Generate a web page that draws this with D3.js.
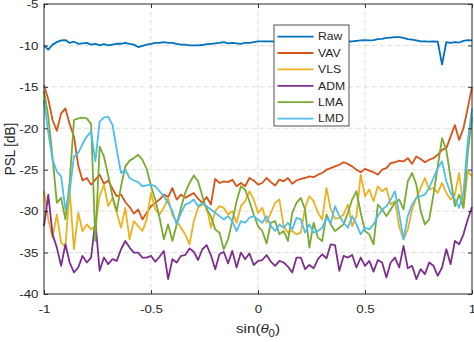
<!DOCTYPE html>
<html>
<head>
<meta charset="utf-8">
<script src="https://cdn.jsdelivr.net/npm/d3@7"></script>
<style>
  html, body { margin: 0; padding: 0; background: #fff; }
  svg { display: block; }
</style>
</head>
<body>
<svg id="chart" width="474" height="342"></svg>
<script>
// Steering direction grid, sin(theta0) from -1 to 1
const sinTheta = d3.range(101).map(i => -1 + i * 0.02);

// Peak sidelobe level (dB) for each method
const raw = [
  -10.0, -10.5, -9.9, -9.6, -9.4, -9.35, -9.7, -9.55, -9.8, -9.75, -9.7, -9.9, -9.8, -10.0, -9.85, -10.0, -9.9, -9.8, -9.8, -9.7, -9.8, -9.9, -10.2, -10.05, -9.9, -9.8,
  -9.7, -9.7, -9.6, -9.7, -9.7, -9.8, -9.9, -9.9, -10.0, -10.0, -10.0, -9.95, -9.85, -9.8, -9.75, -9.7, -9.6, -9.75, -9.7, -9.75, -9.8, -9.7, -9.7, -9.6, -9.5,
  -9.5, -9.5, -9.5, -9.55, -9.6, -9.55, -9.6, -9.65, -9.6, -9.7, -9.65, -9.6, -9.7, -9.75, -9.7, -9.65, -9.7, -9.75, -9.7, -9.7, -9.55, -9.5, -9.45, -9.4, -9.35,
  -9.4, -9.35, -9.25, -9.2, -9.1, -9.05, -9.0, -9.0, -9.1, -9.25, -9.3, -9.4, -9.5, -9.5, -9.55, -9.5, -9.55, -12.3, -9.6, -9.7, -9.6, -9.65, -9.45, -9.35, -9.4
];
const vav = [
  -14.8, -16.5, -19.0, -20.3, -18.2, -17.6, -19.5, -21.0, -24.5, -26.3, -26.0, -26.8, -26.2, -25.6, -26.7, -26.3, -27.3, -28.2, -28.0, -28.9, -29.5, -30.3, -29.8, -31.0, -30.2, -29.4,
  -29.0, -28.6, -28.0, -28.3, -27.2, -28.6, -28.0, -28.4, -28.1, -27.8, -28.5, -29.0, -28.3, -29.2, -26.1, -26.6, -26.4, -26.5, -26.2, -27.0, -26.6, -27.0, -26.0, -26.3, -26.8,
  -26.6, -26.0, -26.5, -26.9, -26.2, -26.4, -26.0, -26.7, -26.3, -26.1, -26.0, -25.8, -25.9, -25.6, -25.4, -25.0, -24.8, -24.6, -24.4, -24.1, -24.3, -24.6, -25.0, -25.3, -24.9,
  -25.1, -25.3, -25.6, -25.0, -24.8, -24.2, -24.1, -23.9, -24.0, -23.6, -24.3, -23.4, -23.7, -24.1, -23.8, -23.6, -23.2, -22.6, -22.4, -21.0, -19.6, -21.4, -20.0, -17.6, -15.0
];
const vls = [
  -27.6, -31.0, -33.2, -30.4, -33.8, -34.3, -27.4, -34.6, -30.2, -32.4, -31.6, -32.2, -31.8, -28.2, -26.8, -29.4, -28.4, -30.2, -32.0, -29.6, -33.4, -31.2, -31.8, -32.4, -31.0, -27.8,
  -29.8, -30.4, -29.6, -28.4, -30.5, -31.2, -32.0, -32.8, -34.0, -31.2, -29.6, -29.2, -29.4, -32.0, -30.0, -29.4, -29.6, -30.4, -30.0, -31.4, -29.4, -28.8, -27.6, -28.6, -30.2,
  -29.6, -31.4, -30.2, -29.0, -28.6, -31.8, -32.6, -32.4, -32.8, -32.6, -29.6, -28.2, -28.8, -30.2, -31.0, -27.2, -29.8, -30.9, -30.8, -30.4, -29.2, -31.8, -30.6, -25.6, -28.2,
  -27.4, -28.8, -27.0, -27.6, -27.2, -29.2, -28.8, -31.9, -33.4, -32.2, -29.8, -28.4, -27.2, -26.0, -27.4, -27.2, -27.8, -26.6, -27.8, -28.6, -28.0, -25.4, -29.6, -25.2, -25.8
];
const adm = [
  -31.8, -28.0, -32.8, -34.4, -36.6, -34.0, -36.2, -37.4, -36.8, -35.4, -36.2, -35.6, -31.2, -37.2, -35.6, -36.4, -35.8, -36.0, -34.6, -33.6, -34.4, -35.0, -35.0, -35.6, -35.6, -35.4,
  -36.1, -35.5, -34.8, -38.2, -35.8, -36.2, -35.4, -35.3, -34.5, -34.9, -35.9, -34.6, -34.1, -35.3, -37.0, -35.2, -34.9, -36.3, -34.8, -36.8, -35.0, -35.8, -35.1, -36.5, -36.0,
  -35.9, -35.3, -36.1, -36.6, -36.0, -36.2, -36.7, -37.4, -35.6, -35.6, -37.0, -36.5, -36.9, -35.8, -35.2, -35.7, -34.0, -34.1, -37.2, -35.4, -35.6, -35.3, -36.8, -35.6, -36.6,
  -36.0, -37.3, -35.9, -36.2, -38.0, -36.2, -35.6, -36.8, -34.2, -36.9, -36.6, -38.2, -37.0, -37.6, -36.2, -36.6, -37.8, -36.8, -34.6, -36.4, -33.6, -34.0, -32.8, -31.0, -29.5
];
const lma = [
  -15.5, -18.6, -23.5, -29.0, -28.4, -31.0, -26.5, -19.0, -18.8, -18.7, -18.8, -19.5, -33.6, -22.2, -23.4, -25.7, -28.2, -30.0, -27.0, -24.6, -23.9, -23.6, -23.2, -23.8, -24.9, -27.0,
  -28.6, -30.8, -33.4, -31.6, -33.6, -31.6, -29.6, -27.8, -26.6, -25.7, -26.4, -28.2, -29.8, -30.6, -32.2, -32.6, -34.6, -33.4, -31.2, -28.8, -27.0, -27.4, -28.8, -30.4, -31.8,
  -32.4, -33.9, -31.4, -31.2, -32.8, -32.4, -33.6, -30.2, -29.0, -28.4, -29.8, -34.4, -31.4, -33.2, -33.6, -30.4, -31.6, -32.4, -32.0, -31.6, -30.2, -28.6, -27.6, -30.2, -32.4,
  -32.8, -34.0, -29.2, -29.8, -30.6, -29.8, -29.0, -28.6, -29.8, -26.4, -25.4, -26.8, -30.0, -31.6, -31.0, -28.0, -24.6, -21.2, -22.6, -26.0, -29.4, -28.0, -29.6, -23.0, -18.6
];
const lmd = [
  -16.6, -20.5, -23.8, -25.2, -25.8, -29.8, -27.6, -23.4, -23.0, -21.9, -21.0, -20.4, -24.0, -19.2, -18.7, -18.6, -19.6, -22.6, -25.4, -25.0, -26.0, -26.3, -26.5, -27.0, -26.9, -26.8,
  -27.0, -27.6, -28.2, -29.0, -30.0, -31.6, -30.2, -29.2, -29.0, -28.6, -29.4, -29.0, -29.4, -29.8, -30.2, -30.6, -31.0, -30.6, -31.2, -32.4, -31.2, -31.4, -30.8, -30.6, -31.0,
  -31.4, -30.6, -31.8, -32.4, -31.6, -32.0, -31.4, -32.2, -30.8, -31.0, -32.6, -31.6, -32.6, -32.4, -32.0, -30.8, -31.4, -29.4, -30.6, -31.4, -32.0, -30.6, -31.6, -32.8, -32.0,
  -32.2, -31.6, -30.6, -29.8, -29.4, -28.6, -27.6, -30.4, -33.4, -30.6, -29.2, -28.4, -28.2, -28.0, -27.2, -26.0, -24.8, -24.0, -26.4, -27.8, -28.6, -29.6, -27.8, -21.6, -17.6
];

const seriesNames = ["Raw", "VAV", "VLS", "ADM", "LMA", "LMD"];
const seriesValues = [raw, vav, vls, adm, lma, lmd];
const seriesColors = ["#0072BD", "#D95319", "#EDB120", "#7E2F8E", "#77AC30", "#4DBEEE"];

const xTicks = [-1, -0.5, 0, 0.5, 1];
const xTickLabels = ["-1", "-0.5", "0", "0.5", "1"];
const yTicks = [-5, -10, -15, -20, -25, -30, -35, -40];
const yTickLabels = ["-5", "-10", "-15", "-20", "-25", "-30", "-35", "-40"];

// ---- layout ----
const W = 474, H = 342;
const plot = { left: 44, right: 472, top: 4, bottom: 294 };
const textStretch = 1.13;   // fonts are drawn slightly wide
const ink = "#262626";
const fontFamily = "'Liberation Sans', Arial, Helvetica, sans-serif";

const svg = d3.select("#chart");

const x = d3.scaleLinear().domain([-1, 1]).range([plot.left, plot.right]);
const y = d3.scaleLinear().domain([-40, -5]).range([plot.bottom, plot.top]);

// ---- grid ----
const grid = svg.append("g").attr("class", "grid");
grid.selectAll("line.gx")
  .data(xTicks.slice(1, -1))
  .join("line")
  .attr("class", "gx")
  .attr("x1", d => x(d)).attr("x2", d => x(d))
  .attr("y1", plot.top).attr("y2", plot.bottom)
  .attr("stroke", "#d4d4d4").attr("stroke-width", 0.8)
  .attr("stroke-dasharray", "5,3");
grid.selectAll("line.gy")
  .data(yTicks.slice(1, -1))
  .join("line")
  .attr("class", "gy")
  .attr("y1", d => y(d)).attr("y2", d => y(d))
  .attr("x1", plot.left).attr("x2", plot.right)
  .attr("stroke", "#d4d4d4").attr("stroke-width", 0.8)
  .attr("stroke-dasharray", "5,3");

// ---- series lines ----
const line = d3.line()
  .x((d, i) => x(sinTheta[i]))
  .y(d => y(d));

svg.append("g").attr("class", "series")
  .selectAll("path")
  .data(seriesValues)
  .join("path")
  .attr("d", d => line(d))
  .attr("fill", "none")
  .attr("stroke", (d, i) => seriesColors[i])
  .attr("stroke-width", 1.8)
  .attr("stroke-linejoin", "round");

// ---- axes (inward ticks on all four sides) ----
function styleAxis(g) {
  g.select(".domain").remove();
  g.selectAll(".tick line").attr("stroke", ink).attr("stroke-width", 0.9);
  g.selectAll(".tick text")
    .attr("fill", ink)
    .style("font-family", fontFamily)
    .style("font-size", "11.8px");
}

const xAxis = svg.append("g")
  .attr("transform", `translate(0,${plot.bottom})`)
  .call(d3.axisBottom(x).tickValues(xTicks)
    .tickFormat((d, i) => xTickLabels[i])
    .tickSizeInner(-4).tickSizeOuter(0).tickPadding(11))
  .call(styleAxis);
xAxis.selectAll(".tick text").attr("transform", `scale(${textStretch},1)`);

const yAxis = svg.append("g")
  .attr("transform", `translate(${plot.left},0)`)
  .call(d3.axisLeft(y).tickValues(yTicks)
    .tickFormat((d, i) => yTickLabels[i])
    .tickSizeInner(-4).tickSizeOuter(0).tickPadding(5.5))
  .call(styleAxis);
yAxis.selectAll(".tick text")
  .attr("x", -5.5 / textStretch)
  .attr("transform", `scale(${textStretch},1)`);

svg.append("g")
  .attr("transform", `translate(0,${plot.top})`)
  .call(d3.axisTop(x).tickValues(xTicks).tickFormat("")
    .tickSizeInner(-4).tickSizeOuter(0))
  .call(styleAxis);
svg.append("g")
  .attr("transform", `translate(${plot.right},0)`)
  .call(d3.axisRight(y).tickValues(yTicks).tickFormat("")
    .tickSizeInner(-4).tickSizeOuter(0))
  .call(styleAxis);

// axes box
svg.append("rect")
  .attr("x", plot.left).attr("y", plot.top)
  .attr("width", plot.right - plot.left).attr("height", plot.bottom - plot.top)
  .attr("fill", "none").attr("stroke", ink).attr("stroke-width", 1);

// ---- axis titles ----
const xTitle = svg.append("text")
  .attr("transform", `translate(${(plot.left + plot.right) / 2},332.5) scale(${textStretch},1)`)
  .attr("text-anchor", "middle")
  .attr("fill", ink)
  .style("font-family", fontFamily)
  .style("font-size", "13.4px");
xTitle.append("tspan").text("sin(");
xTitle.append("tspan").style("font-style", "italic").text("θ");
xTitle.append("tspan").attr("dy", 4).style("font-size", "10px").text("0");
xTitle.append("tspan").attr("dy", -4).text(")");

svg.append("text")
  .attr("transform", `translate(15,${(plot.top + plot.bottom) / 2}) scale(${textStretch},1) rotate(-90)`)
  .attr("text-anchor", "middle")
  .attr("fill", ink)
  .style("font-family", fontFamily)
  .style("font-size", "13.4px")
  .text("PSL [dB]");

// ---- legend ----
const legend = { x: 274, y: 25, w: 75, h: 101, row0: 36.6, rowStep: 16.4 };
const lg = svg.append("g").attr("class", "legend");
lg.append("rect")
  .attr("x", legend.x).attr("y", legend.y)
  .attr("width", legend.w).attr("height", legend.h)
  .attr("fill", "#fff").attr("stroke", ink).attr("stroke-width", 0.8);

const items = lg.selectAll("g.item")
  .data(seriesNames)
  .join("g")
  .attr("class", "item")
  .attr("transform", (d, i) => `translate(0,${legend.row0 + i * legend.rowStep})`);
items.append("line")
  .attr("x1", legend.x + 3.5).attr("x2", legend.x + 39.5)
  .attr("y1", 0).attr("y2", 0)
  .attr("stroke", (d, i) => seriesColors[i])
  .attr("stroke-width", 1.8);
items.append("text")
  .attr("transform", `translate(${legend.x + 44},0) scale(${textStretch},1)`)
  .attr("dy", "0.36em")
  .attr("fill", ink)
  .style("font-family", fontFamily)
  .style("font-size", "10.8px")
  .text(d => d);
</script>
</body>
</html>
